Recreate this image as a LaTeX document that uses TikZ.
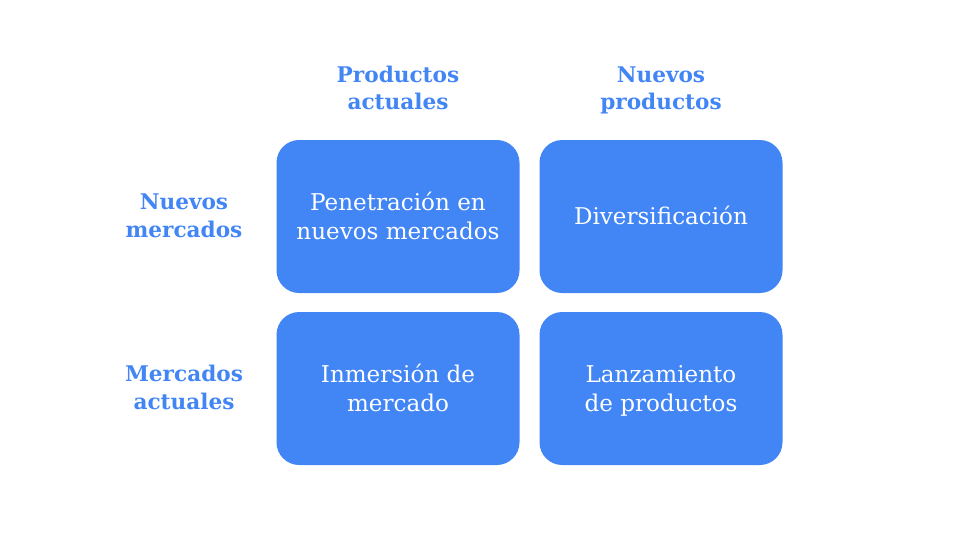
\documentclass[tikz,border=0pt]{standalone}
\usepackage{fontspec}
\setmainfont{DejaVu Serif}
\definecolor{gblue}{HTML}{4285F4}
\begin{document}
\begin{tikzpicture}[x=0.75pt,y=-0.75pt,
  cell/.style={fill=gblue,draw=none,rounded corners=17pt,minimum width=182.25pt,minimum height=114.75pt,text=white,align=center,font=\fontsize{17.3}{21.75}\selectfont,inner sep=0pt},
  txt/.style={text=white,align=center,font=\fontsize{17.3}{21.75}\selectfont,inner sep=0pt},
  head/.style={text=gblue,align=center,font=\bfseries\fontsize{16.2}{20.5}\selectfont,inner sep=0pt}]
\useasboundingbox (0,0) rectangle (960,540);
\node[cell] (pn) at (398,216.5) {};
\node[cell] (dv) at (661,216.5) {};
\node[cell] (im) at (398,388.5) {};
\node[cell] (lp) at (661,388.5) {};
\node[txt] (pnt) at ([yshift=-2pt]pn.center) {\strut Penetración en\\\strut nuevos mercados};
\node[txt] (dvt) at ([yshift=-2pt]dv.center) {\strut Diversificación};
\node[txt] (imt) at ([yshift=-2pt]im.center) {\strut Inmersión de\\\strut mercado};
\node[txt] (lpt) at ([yshift=-2pt]lp.center) {\strut Lanzamiento\\\strut de productos};
\node[head] (pa) at (398,90.5) {\strut Productos\\\strut actuales};
\node[head] (np) at (661,90.5) {\strut Nuevos\\\strut productos};
\node[head] (nm) at (184,218) {\strut Nuevos\\\strut mercados};
\node[head] (ma) at (184,390) {\strut Mercados\\\strut actuales};
\end{tikzpicture}
\end{document}
